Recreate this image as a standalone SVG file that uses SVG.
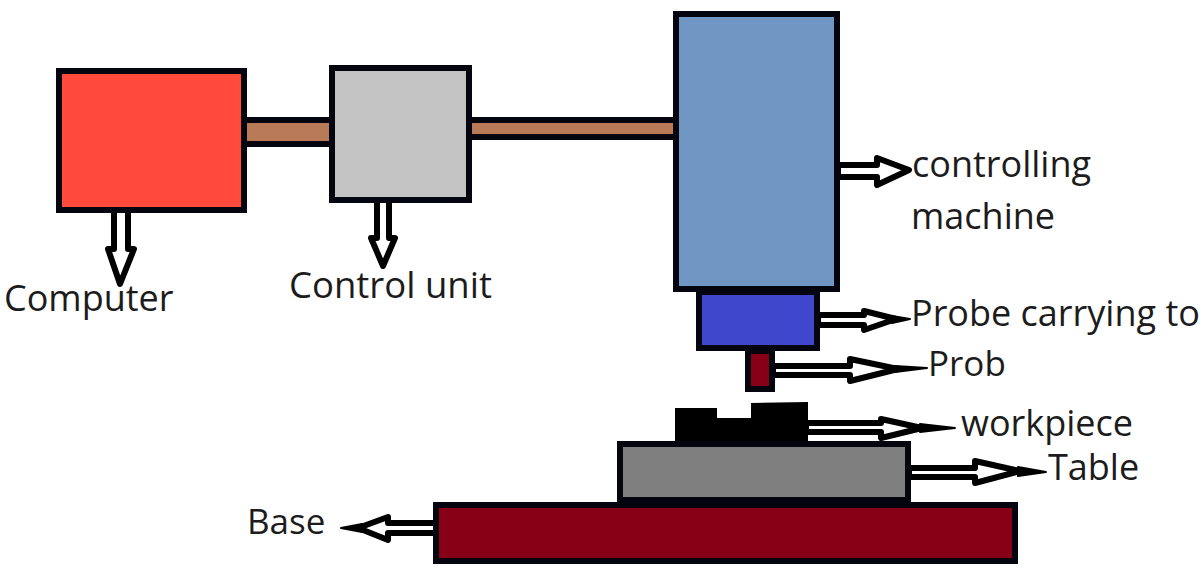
<svg xmlns="http://www.w3.org/2000/svg" width="1200" height="585" viewBox="0 0 1200 585">
<style>
.box{stroke:#050510;stroke-width:6}
.bar{fill:#b97a57;stroke:#050510;stroke-width:6}
.arrow{fill:#fff;stroke:#000;stroke-width:6;stroke-linejoin:round}
.tip{fill:#000;stroke:#000;stroke-width:2;stroke-linejoin:round}
text{font-family:"Open Sans","Noto Sans",sans-serif;font-size:36px;fill:#1c1c1c}
.s{font-size:35px}
</style>
<rect width="1200" height="585" fill="#fff"/>
<g id="connectors">
<rect class="bar" x="243" y="120" width="90" height="24"/>
<rect class="bar" x="468" y="120" width="210" height="17"/>
<polygon class="arrow" points="114,209 114,249 108,249 120,284 134,249 128,249 128,209"/>
<polygon class="arrow" points="377,200 377,238 371,238 383,266 395,238 389,238 389,200"/>
<polygon class="arrow" points="838,165 877,165 877,158 909,170 877,185 877,177 838,177"/>
<polygon class="arrow" points="818,315 864,315 864,311 896,319 864,330 864,325 818,325"/>
<polygon class="tip" points="892,316 910,319 892,323"/>
<polygon class="arrow" points="773,366 850,366 850,359 898,369 850,381 850,375 773,375"/>
<polygon class="tip" points="895,366 927,368 895,372"/>
<polygon class="arrow" points="806,423 881,423 881,419 922,428 881,438 881,432 806,432"/>
<polygon class="tip" points="920,424 955,428 920,432"/>
<polygon class="arrow" points="909,468 975,468 975,461 1020,471 975,483 975,477 909,477"/>
<polygon class="tip" points="1018,467 1046,472 1018,476"/>
<polygon class="arrow" points="436,523 388,523 388,517 358,528 388,540 388,533 436,533"/>
<polygon class="tip" points="362,524 341,528 362,532"/>
</g>
<g id="computer">
<rect class="box" x="59" y="71" width="185" height="139" fill="#ff4a3c"/>
<text x="4" y="311">Computer</text>
</g>
<g id="control-unit">
<rect class="box" x="332" y="68" width="137" height="132" fill="#c3c3c3"/>
<text x="289" y="298" style="font-size:36.5px">Control unit</text>
</g>
<g id="controlling-machine">
<rect class="box" x="676" y="14" width="161" height="275" fill="#7096c3"/>
<text x="912" y="177">controlling</text>
<text x="911" y="229">machine</text>
</g>
<g id="probe-carrying-tool">
<rect class="box" x="699" y="292" width="118" height="56" fill="#3f48cc"/>
<text x="911" y="326">Probe carrying to</text>
</g>
<g id="probe">
<rect class="box" x="748" y="351" width="24" height="38" fill="#880015"/>
<text class="s" x="928" y="376">Prob</text>
</g>
<g id="workpiece">
<polygon points="675,408 717,408 717,418 751,418 751,403 808,402 808,444 675,444" fill="#000"/>
<text x="961" y="436">workpiece</text>
</g>
<g id="table">
<rect class="box" x="620" y="444" width="288" height="56" fill="#7f7f7f"/>
<text x="1048" y="480">Table</text>
</g>
<g id="base">
<rect class="box" x="436" y="505" width="579" height="56" fill="#880015"/>
<text class="s" x="247" y="534">Base</text>
</g>
</svg>
